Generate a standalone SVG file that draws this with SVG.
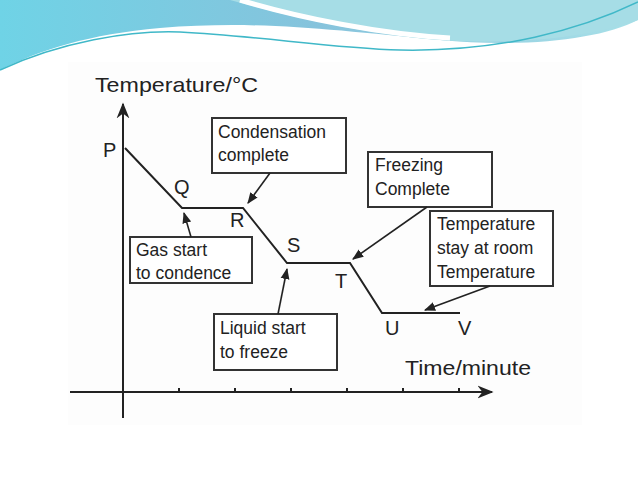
<svg xmlns="http://www.w3.org/2000/svg" width="638" height="478" viewBox="0 0 638 478">
<defs>
<linearGradient id="bg" x1="0" y1="0" x2="1" y2="0"><stop offset="0" stop-color="#6fd3e6"/><stop offset="0.5" stop-color="#86c3dc"/><stop offset="1" stop-color="#a8e0e8"/></linearGradient>
<marker id="ah" viewBox="0 0 10 10" refX="9" refY="5" markerWidth="7" markerHeight="7" orient="auto"><path d="M0,1 L10,5 L0,9 Z" fill="#222"/></marker>
<marker id="ax" viewBox="0 0 10 10" refX="9" refY="5" markerWidth="8" markerHeight="8" orient="auto"><path d="M0,1 L10,5 L0,9 L3,5 Z" fill="#222"/></marker>
</defs>
<style>
.t{font-family:"Liberation Sans",Arial,sans-serif;fill:#222}
.lb{font-size:17.5px}.ax{font-size:21px}.pt{font-size:20px}
.box{fill:#fff;stroke:#333;stroke-width:2}
.ln{stroke:#222;stroke-width:2;fill:none}
.ar{stroke:#222;stroke-width:1.6;fill:none;marker-end:url(#ah)}
</style>
<rect width="638" height="478" fill="#fff"/>
<path d="M0,0 H638 V20 C600,40 520,48 440,40 C330,30 260,20 160,28 C90,34 40,50 0,70 Z" fill="url(#bg)"/>
<path d="M230,0 C300,20 380,36 440,40 C520,46 600,35 638,20 V0 Z" fill="#a6dde6"/>
<path d="M240,0 C300,18 380,34 450,38" stroke="#fff" stroke-width="5" fill="none"/>
<path d="M0,70 C60,42 130,30 180,32 C260,36 330,48 400,50 C500,52 580,30 638,2" stroke="#40b8c8" stroke-width="1.5" fill="none"/>
<rect x="68" y="62" width="514" height="363" fill="#fdfdfd"/>
<g id="axes">
<line class="ln" x1="123" y1="418" x2="123" y2="104" marker-end="url(#ax)"/>
<line class="ln" x1="70" y1="392" x2="492" y2="392" marker-end="url(#ax)"/>
<path class="ln" d="M179,392v-4M235,392v-4M291,392v-4M347,392v-4M403,392v-4M459,392v-4" stroke-width="1.5"/>
<text class="t ax" x="95" y="92" textLength="163" lengthAdjust="spacingAndGlyphs">Temperature/°C</text>
<text class="t ax" x="405" y="375" textLength="126" lengthAdjust="spacingAndGlyphs">Time/minute</text>
</g>
<g id="curve">
<polyline class="ln" points="125,148 182,208 243,208 287,263 350,263 382,313 460,313"/>
<text class="t pt" x="103" y="157">P</text>
<text class="t pt" x="174" y="194">Q</text>
<text class="t pt" x="230" y="227">R</text>
<text class="t pt" x="287" y="252">S</text>
<text class="t pt" x="335" y="288">T</text>
<text class="t pt" x="385" y="335">U</text>
<text class="t pt" x="458" y="335">V</text>
</g>
<g id="condensation"><rect class="box" x="212" y="118" width="134" height="55"/><text class="t lb" x="218" y="138">Condensation</text><text class="t lb" x="218" y="161">complete</text></g>
<g id="gas"><rect class="box" x="130" y="237" width="122" height="46"/><text class="t lb" x="136" y="256">Gas start</text><text class="t lb" x="136" y="279">to condence</text></g>
<g id="freezing"><rect class="box" x="368" y="152" width="124" height="55"/><text class="t lb" x="375" y="171">Freezing</text><text class="t lb" x="375" y="195">Complete</text></g>
<g id="room"><rect class="box" x="430" y="211" width="123" height="75"/><text class="t lb" x="437" y="230">Temperature</text><text class="t lb" x="437" y="254">stay at room</text><text class="t lb" x="437" y="278">Temperature</text></g>
<g id="liquid"><rect class="box" x="214" y="314" width="123" height="56"/><text class="t lb" x="220" y="334">Liquid start</text><text class="t lb" x="220" y="358">to freeze</text></g>
<g id="connectors">
<line class="ar" x1="270" y1="173" x2="248" y2="203"/>
<line class="ar" x1="191" y1="237" x2="184" y2="213"/>
<line class="ar" x1="427" y1="207" x2="353" y2="259"/>
<line class="ar" x1="490" y1="286" x2="425" y2="310"/>
<line class="ar" x1="278" y1="314" x2="287" y2="269"/>
</g>
</svg>
